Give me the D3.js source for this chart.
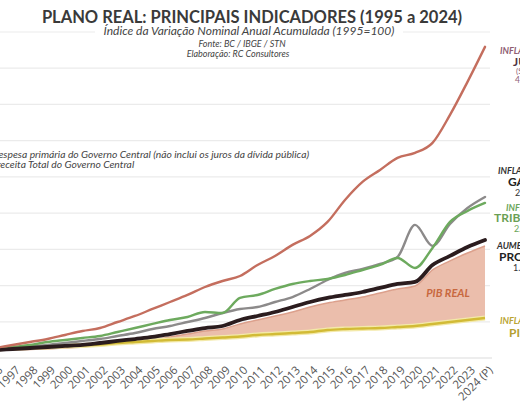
<!DOCTYPE html>
<html>
<head>
<meta charset="utf-8">
<script src="https://cdn.jsdelivr.net/npm/d3@7"></script>
<style>
  html, body { margin: 0; padding: 0; background: #fff; overflow: hidden; }
  svg { display: block; font-family: "Lato", "Open Sans", sans-serif; }
</style>
</head>
<body>
<div id="chart"></div>
<script>
// Years on the x axis
const years = [1995, 1996, 1997, 1998, 1999, 2000, 2001, 2002, 2003, 2004,
  2005, 2006, 2007, 2008, 2009, 2010, 2011, 2012, 2013, 2014,
  2015, 2016, 2017, 2018, 2019, 2020, 2021, 2022, 2023, 2024];

const tickLabels = ["1995", "1996", "1997", "1998", "1999", "2000", "2001", "2002", "2003", "2004",
  "2005", "2006", "2007", "2008", "2009", "2010", "2011", "2012", "2013", "2014",
  "2015", "2016", "2017", "2018", "2019", "2020", "2021", "2022", "2023", "2024 (P)"];

// Index values (1995 = 100)
const juros = [100, 138, 180, 221, 262, 318, 373, 414, 497, 580,
  677, 773, 870, 980, 1063, 1132, 1284, 1409, 1561, 1685,
  1878, 2182, 2431, 2596, 2762, 2831, 2969, 3356, 3812, 4295];

const gastos = [100, 117, 138, 159, 180, 207, 235, 262, 304, 345,
  400, 442, 497, 552, 621, 677, 704, 773, 842, 953,
  1077, 1174, 1229, 1298, 1395, 1837, 1547, 1851, 2071, 2223];

const receita = [100, 124, 152, 180, 221, 249, 276, 304, 359, 414,
  470, 525, 566, 635, 621, 829, 870, 953, 1022, 1063,
  1091, 1146, 1215, 1284, 1381, 1243, 1519, 1878, 2030, 2140];

const producao = [100, 110, 124, 138, 152, 166, 180, 207, 235, 262,
  290, 331, 373, 414, 442, 525, 580, 635, 704, 773,
  829, 870, 911, 967, 1022, 1050, 1284, 1409, 1533, 1630];

const pibReal = [100, 104, 110, 117, 124, 138, 152, 173, 193, 221,
  249, 290, 331, 373, 400, 470, 525, 580, 635, 704,
  760, 801, 842, 898, 953, 994, 1215, 1340, 1450, 1547];

const inflacao = [100, 124, 138, 145, 152, 166, 173, 186, 207, 221,
  235, 249, 255, 269, 283, 297, 318, 331, 345, 359,
  387, 400, 407, 414, 428, 442, 470, 497, 525, 552];

const gridValues = [500, 1000, 1500, 2000, 2500, 3000, 3500, 4000, 4500];

const width = 520;
const height = 405;

const svg = d3.select("#chart")
  .append("svg")
  .attr("width", width)
  .attr("height", height);

const x = d3.scaleLinear().domain([1995, 2024]).range([-22.5, 485]);
const y = d3.scaleLinear().domain([0, 4500]).range([358, 32]);

// gridlines
svg.append("g")
  .selectAll("line")
  .data(gridValues)
  .enter()
  .append("line")
  .attr("x1", 0)
  .attr("x2", 490)
  .attr("y1", (d) => y(d))
  .attr("y2", (d) => y(d))
  .attr("stroke", "#ebebeb")
  .attr("stroke-width", 1.2);

// x axis
const xAxis = d3.axisBottom(x)
  .tickValues(years)
  .tickSize(0)
  .tickFormat((d, i) => tickLabels[i]);

const gx = svg.append("g")
  .attr("transform", "translate(0," + y(0) + ")")
  .call(xAxis);

gx.select(".domain").attr("stroke", "#dcdcdc").attr("stroke-width", 1.2)
  .attr("d", "M0,0H492");
gx.selectAll("text")
  .attr("fill", "#555")
  .style("font-size", "11.5px")
  .style("font-family", "'Open Sans', sans-serif")
  .attr("text-anchor", "end")
  .attr("transform", "rotate(-45)")
  .attr("dx", "-0.3em")
  .attr("dy", "0.85em")
  .attr("x", 0)
  .attr("y", 5);

// area between inflation and PIB
const area = d3.area()
  .x((d, i) => x(years[i]))
  .y0((d, i) => y(inflacao[i]))
  .y1((d) => y(d))
  .curve(d3.curveMonotoneX);

svg.append("path")
  .datum(pibReal)
  .attr("d", area)
  .attr("fill", "#ebbeac");

const line = d3.line()
  .x((d, i) => x(years[i]))
  .y((d) => y(d))
  .curve(d3.curveMonotoneX);

// top edge of area
svg.append("path")
  .datum(pibReal)
  .attr("d", line)
  .attr("fill", "none")
  .attr("stroke", "#dca08c")
  .attr("stroke-width", 1.5);

// inflation line with light halo
svg.append("path")
  .datum(inflacao)
  .attr("d", line)
  .attr("fill", "none")
  .attr("stroke", "#f3e9a8")
  .attr("stroke-width", 5);
svg.append("path")
  .datum(inflacao)
  .attr("d", line)
  .attr("fill", "none")
  .attr("stroke", "#d2bb36")
  .attr("stroke-width", 2.4);

const series = [
  { values: gastos, color: "#8c8a8a", w: 2.4 },
  { values: receita, color: "#6daa5e", w: 2.4 },
  { values: producao, color: "#2b1c1e", w: 3.8 },
  { values: juros, color: "#c46e5e", w: 2.4 }
];

svg.append("g")
  .selectAll("path")
  .data(series)
  .enter()
  .append("path")
  .attr("d", (d) => line(d.values))
  .attr("fill", "none")
  .attr("stroke", (d) => d.color)
  .attr("stroke-width", (d) => d.w)
  .attr("stroke-linejoin", "round")
  .attr("stroke-linecap", "round");

// PIB REAL label
svg.append("text")
  .attr("x", 448)
  .attr("y", 297)
  .attr("text-anchor", "middle")
  .attr("fill", "#c8683f")
  .style("font-size", "11px")
  .style("font-weight", "bold")
  .style("font-style", "italic")
  .text("PIB REAL");

// title block
svg.append("text")
  .attr("x", 252)
  .attr("y", 23)
  .attr("text-anchor", "middle")
  .attr("fill", "#3a3a3a")
  .style("font-size", "16.5px")
  .style("font-weight", "bold")
  .text("PLANO REAL: PRINCIPAIS INDICADORES (1995 a 2024)");

svg.append("rect")
  .attr("x", 95).attr("y", 25).attr("width", 308).attr("height", 13)
  .attr("fill", "#fff");

svg.append("text")
  .attr("x", 249)
  .attr("y", 35)
  .attr("text-anchor", "middle")
  .attr("fill", "#444")
  .style("font-size", "12px")
  .style("font-style", "italic")
  .text("Índice da Variação Nominal Anual Acumulada (1995=100)");

svg.append("text")
  .attr("x", 242)
  .attr("y", 47)
  .attr("text-anchor", "middle")
  .attr("fill", "#444")
  .style("font-size", "9px")
  .style("font-style", "italic")
  .text("Fonte: BC / IBGE / STN");

svg.append("text")
  .attr("x", 238)
  .attr("y", 57)
  .attr("text-anchor", "middle")
  .attr("fill", "#444")
  .style("font-size", "9px")
  .style("font-style", "italic")
  .text("Elaboração: RC Consultores");

// notes at the left, cut by the frame
svg.append("text")
  .attr("x", -7)
  .attr("y", 158)
  .attr("fill", "#444")
  .style("font-size", "10.3px")
  .style("font-style", "italic")
  .text("despesa primária do Governo Central (não inclui os juros da dívida pública)");

svg.append("text")
  .attr("x", -3)
  .attr("y", 168)
  .attr("fill", "#444")
  .style("font-size", "10.3px")
  .style("font-style", "italic")
  .text("receita Total do Governo Central");

// end labels on the right, cut by the frame
const endLabels = [
  [
    { t: "INFLAÇÃO DOS", x: 500, y: 54, c: "#8e5d73", s: 9, b: true, i: true },
    { t: "JUROS", x: 513, y: 66, c: "#4d3344", s: 12, b: true },
    { t: "(SELIC)", x: 516, y: 74, c: "#8e5d73", s: 8 },
    { t: "4.195%", x: 515, y: 83, c: "#8e5d73", s: 8.5 }
  ],
  [
    { t: "INFLAÇÃO DOS", x: 498, y: 174, c: "#333", s: 9, b: true, i: true },
    { t: "GASTOS", x: 508, y: 186, c: "#222", s: 12, b: true },
    { t: "2.123%", x: 515, y: 196, c: "#333", s: 9 }
  ],
  [
    { t: "INFLAÇÃO", x: 506, y: 211, c: "#6aa65a", s: 9, b: true, i: true },
    { t: "TRIBUTÁRIA", x: 494, y: 222, c: "#6a9f55", s: 12, b: true },
    { t: "2.040%", x: 514, y: 232, c: "#6aa65a", s: 9 }
  ],
  [
    { t: "AUMENTO DA", x: 497, y: 249, c: "#333", s: 9, b: true, i: true },
    { t: "PRODUÇÃO", x: 499, y: 261, c: "#222", s: 12, b: true },
    { t: "1.530%", x: 513, y: 271, c: "#333", s: 9 }
  ],
  [
    { t: "INFLAÇÃO", x: 500, y: 324, c: "#b9a432", s: 9, b: true, i: true },
    { t: "PIB", x: 509, y: 337, c: "#b3a030", s: 12, b: true }
  ]
];

endLabels.forEach(function (group) {
  svg.append("g")
    .selectAll("text")
    .data(group)
    .enter()
    .append("text")
    .attr("x", (d) => d.x)
    .attr("y", (d) => d.y)
    .attr("fill", (d) => d.c)
    .style("font-size", (d) => d.s + "px")
    .style("font-weight", (d) => (d.b ? "bold" : "normal"))
    .style("font-style", (d) => (d.i ? "italic" : "normal"))
    .text((d) => d.t);
});
</script>
</body>
</html>
